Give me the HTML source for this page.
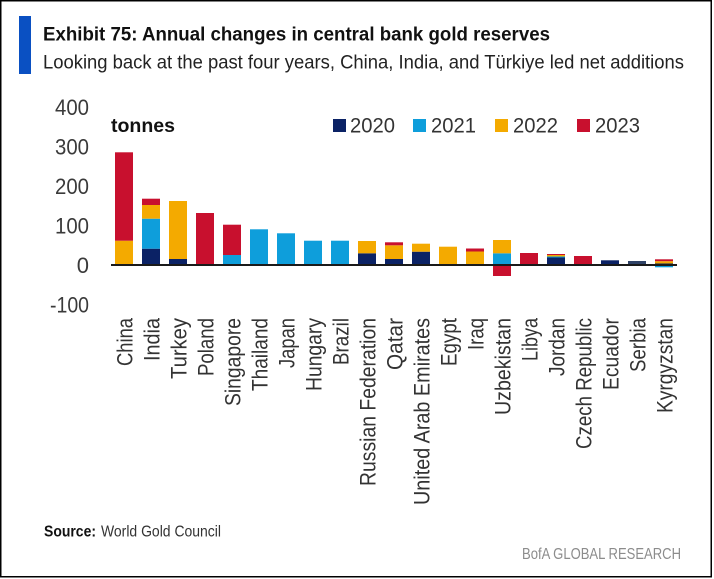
<!DOCTYPE html>
<html>
<head>
<meta charset="utf-8">
<style>
  html, body { margin:0; padding:0; background:#fff; }
  svg { display:block; }
  text { font-family: "Liberation Sans", "DejaVu Sans", sans-serif; }
</style>
</head>
<body>
<svg width="714" height="579" viewBox="0 0 714 579" xmlns="http://www.w3.org/2000/svg">
  <rect x="0" y="0" width="714" height="579" fill="#fff"/>
  <rect x="0.75" y="0.75" width="710.5" height="576" fill="none" stroke="#000" stroke-width="1.5"/>

  <!-- header -->
  <rect x="19" y="16" width="12" height="58" fill="#0a50c2"/>
  <text x="43" y="40.7" font-size="19.5" font-weight="bold" fill="#111" textLength="507" lengthAdjust="spacingAndGlyphs">Exhibit 75: Annual changes in central bank gold reserves</text>
  <text x="43" y="68.3" font-size="19.5" fill="#222" textLength="641" lengthAdjust="spacingAndGlyphs">Looking back at the past four years, China, India, and Türkiye led net additions</text>

  <!-- y axis labels -->
  <g font-size="22" fill="#3a3a3a" text-anchor="end">
    <text x="89" y="115" textLength="34" lengthAdjust="spacingAndGlyphs">400</text>
    <text x="89" y="154.5" textLength="34" lengthAdjust="spacingAndGlyphs">300</text>
    <text x="89" y="194" textLength="34" lengthAdjust="spacingAndGlyphs">200</text>
    <text x="89" y="233.5" textLength="34" lengthAdjust="spacingAndGlyphs">100</text>
    <text x="89" y="273">0</text>
    <text x="89" y="312.5" textLength="39" lengthAdjust="spacingAndGlyphs">-100</text>
  </g>

  <text x="111" y="132" font-size="19.5" font-weight="bold" fill="#111" textLength="64" lengthAdjust="spacingAndGlyphs">tonnes</text>

  <!-- legend -->
  <rect x="333" y="119" width="13" height="13" fill="#0b2265"/>
  <text x="350" y="132.5" font-size="21.5" fill="#333" textLength="45" lengthAdjust="spacingAndGlyphs">2020</text>
  <rect x="413" y="119" width="13" height="13" fill="#0e9edb"/>
  <text x="431" y="132.5" font-size="21.5" fill="#333" textLength="45" lengthAdjust="spacingAndGlyphs">2021</text>
  <rect x="495" y="119" width="13" height="13" fill="#f4aa00"/>
  <text x="513" y="132.5" font-size="21.5" fill="#333" textLength="45" lengthAdjust="spacingAndGlyphs">2022</text>
  <rect x="577" y="119" width="13" height="13" fill="#c8102e"/>
  <text x="595" y="132.5" font-size="21.5" fill="#333" textLength="45" lengthAdjust="spacingAndGlyphs">2023</text>

  <!-- bars -->
  <g>
    <rect x="115" y="240.7" width="18" height="24.3" fill="#f4aa00"/>
    <rect x="115" y="152.3" width="18" height="88.4" fill="#c8102e"/>
    <rect x="142" y="248.7" width="18" height="16.3" fill="#0b2265"/>
    <rect x="142" y="218.7" width="18" height="30" fill="#0e9edb"/>
    <rect x="142" y="205" width="18" height="13.7" fill="#f4aa00"/>
    <rect x="142" y="198.7" width="18" height="6.3" fill="#c8102e"/>
    <rect x="169" y="259" width="18" height="6" fill="#0b2265"/>
    <rect x="169" y="201" width="18" height="58" fill="#f4aa00"/>
    <rect x="196" y="213" width="18" height="52" fill="#c8102e"/>
    <rect x="223" y="255" width="18" height="10" fill="#0e9edb"/>
    <rect x="223" y="224.7" width="18" height="30.3" fill="#c8102e"/>
    <rect x="250" y="229.3" width="18" height="35.7" fill="#0e9edb"/>
    <rect x="277" y="233.3" width="18" height="31.7" fill="#0e9edb"/>
    <rect x="304" y="240.7" width="18" height="24.3" fill="#0e9edb"/>
    <rect x="331" y="240.7" width="18" height="24.3" fill="#0e9edb"/>
    <rect x="358" y="253.3" width="18" height="11.7" fill="#0b2265"/>
    <rect x="358" y="241" width="18" height="12.3" fill="#f4aa00"/>
    <rect x="385" y="259" width="18" height="6" fill="#0b2265"/>
    <rect x="385" y="245.3" width="18" height="13.7" fill="#f4aa00"/>
    <rect x="385" y="242.3" width="18" height="3" fill="#c8102e"/>
    <rect x="412" y="251.7" width="18" height="13.3" fill="#0b2265"/>
    <rect x="412" y="243.7" width="18" height="8" fill="#f4aa00"/>
    <rect x="439" y="246.7" width="18" height="18.3" fill="#f4aa00"/>
    <rect x="466" y="251.5" width="18" height="13.5" fill="#f4aa00"/>
    <rect x="466" y="248.5" width="18" height="3" fill="#c8102e"/>
    <rect x="493" y="253.3" width="18" height="11.7" fill="#0e9edb"/>
    <rect x="493" y="240" width="18" height="13.3" fill="#f4aa00"/>
    <rect x="493" y="265" width="18" height="11" fill="#c8102e"/>
    <rect x="520" y="253" width="18" height="12" fill="#c8102e"/>
    <rect x="547" y="257.5" width="18" height="7.5" fill="#0b2265"/>
    <rect x="547" y="256.5" width="18" height="1" fill="#0e9edb"/>
    <rect x="547" y="255" width="18" height="1.5" fill="#f4aa00"/>
    <rect x="547" y="254" width="18" height="1" fill="#c8102e"/>
    <rect x="574" y="256" width="18" height="9" fill="#c8102e"/>
    <rect x="601" y="260.3" width="18" height="4.7" fill="#0b2265"/>
    <rect x="628" y="261" width="18" height="4" fill="#2f4266"/>
    <rect x="655" y="259.3" width="18" height="2" fill="#c8102e"/>
    <rect x="655" y="261.3" width="18" height="2.2" fill="#f4aa00"/>
    <rect x="655" y="263.5" width="18" height="1.5" fill="#0b2265"/>
    <rect x="655" y="265" width="18" height="2.3" fill="#0e9edb"/>
  </g>

  <!-- zero axis -->
  <line x1="111" y1="265" x2="677" y2="265" stroke="#1a1a1a" stroke-width="2"/>

  <!-- category labels -->
  <g font-size="22" fill="#333" text-anchor="end">
    <text transform="translate(132.5,318) rotate(-90)" textLength="48" lengthAdjust="spacingAndGlyphs">China</text>
    <text transform="translate(159.5,318) rotate(-90)" textLength="43" lengthAdjust="spacingAndGlyphs">India</text>
    <text transform="translate(186.5,318) rotate(-90)" textLength="61" lengthAdjust="spacingAndGlyphs">Turkey</text>
    <text transform="translate(213.5,318) rotate(-90)" textLength="58" lengthAdjust="spacingAndGlyphs">Poland</text>
    <text transform="translate(240.5,318) rotate(-90)" textLength="88" lengthAdjust="spacingAndGlyphs">Singapore</text>
    <text transform="translate(267.5,318) rotate(-90)" textLength="73" lengthAdjust="spacingAndGlyphs">Thailand</text>
    <text transform="translate(294.5,318) rotate(-90)" textLength="50" lengthAdjust="spacingAndGlyphs">Japan</text>
    <text transform="translate(321.5,318) rotate(-90)" textLength="73" lengthAdjust="spacingAndGlyphs">Hungary</text>
    <text transform="translate(348.5,318) rotate(-90)" textLength="47" lengthAdjust="spacingAndGlyphs">Brazil</text>
    <text transform="translate(375.5,318) rotate(-90)" textLength="168" lengthAdjust="spacingAndGlyphs">Russian Federation</text>
    <text transform="translate(402.5,318) rotate(-90)" textLength="52" lengthAdjust="spacingAndGlyphs">Qatar</text>
    <text transform="translate(429.5,318) rotate(-90)" textLength="187" lengthAdjust="spacingAndGlyphs">United Arab Emirates</text>
    <text transform="translate(456.5,318) rotate(-90)" textLength="48" lengthAdjust="spacingAndGlyphs">Egypt</text>
    <text transform="translate(483.5,318) rotate(-90)" textLength="32" lengthAdjust="spacingAndGlyphs">Iraq</text>
    <text transform="translate(510.5,318) rotate(-90)" textLength="97" lengthAdjust="spacingAndGlyphs">Uzbekistan</text>
    <text transform="translate(537.5,318) rotate(-90)" textLength="43" lengthAdjust="spacingAndGlyphs">Libya</text>
    <text transform="translate(564.5,318) rotate(-90)" textLength="58" lengthAdjust="spacingAndGlyphs">Jordan</text>
    <text transform="translate(591.5,318) rotate(-90)" textLength="131" lengthAdjust="spacingAndGlyphs">Czech Republic</text>
    <text transform="translate(618.5,318) rotate(-90)" textLength="72" lengthAdjust="spacingAndGlyphs">Ecuador</text>
    <text transform="translate(645.5,318) rotate(-90)" textLength="54" lengthAdjust="spacingAndGlyphs">Serbia</text>
    <text transform="translate(672.5,318) rotate(-90)" textLength="95" lengthAdjust="spacingAndGlyphs">Kyrgyzstan</text>
  </g>

  <!-- footer -->
  <text x="44" y="536.5" font-size="16" font-weight="bold" fill="#111" textLength="52" lengthAdjust="spacingAndGlyphs">Source:</text>
  <text x="101" y="536.5" font-size="16" fill="#333" textLength="120" lengthAdjust="spacingAndGlyphs">World Gold Council</text>
  <text x="522" y="559" font-size="16" fill="#8c8c8c" textLength="159" lengthAdjust="spacingAndGlyphs">BofA GLOBAL RESEARCH</text>
</svg>
</body>
</html>
